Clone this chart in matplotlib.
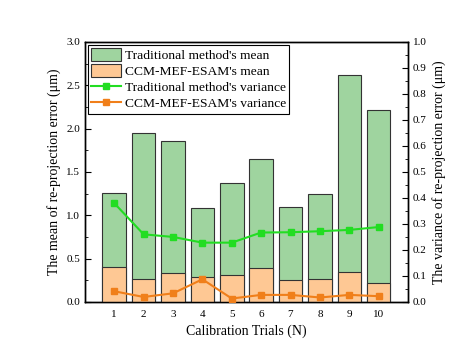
import numpy as np
import matplotlib.pyplot as plt
from matplotlib.ticker import MultipleLocator

plt.rcParams['font.family'] = ['Liberation Serif', 'DejaVu Serif']

trials = [1, 2, 3, 4, 5, 6, 7, 8, 9, 10]
trad_mean = [1.26, 1.95, 1.86, 1.08, 1.37, 1.65, 1.10, 1.25, 2.62, 2.21]
ccm_mean = [0.40, 0.265, 0.335, 0.29, 0.31, 0.39, 0.25, 0.265, 0.34, 0.22]
trad_var = [0.38, 0.26, 0.25, 0.228, 0.228, 0.267, 0.268, 0.272, 0.277, 0.288]
ccm_var = [0.041, 0.019, 0.033, 0.087, 0.013, 0.027, 0.027, 0.017, 0.027, 0.022]

fig = plt.figure(figsize=(4.74, 3.62), dpi=100)
ax = fig.add_axes([0.179, 0.166, 0.682, 0.718])

b1 = ax.bar(trials, trad_mean, width=0.8, color='#9fd49f', edgecolor='#333333',
            linewidth=0.8, label="Traditional method's mean", zorder=2)
b2 = ax.bar(trials, ccm_mean, width=0.8, color='#fec894', edgecolor='#333333',
            linewidth=0.8, label="CCM-MEF-ESAM's mean", zorder=3)
ax.set_xlim(0, 11)
ax.set_ylim(0, 3.0)
ax.set_xticks(trials)
ax.yaxis.set_major_locator(MultipleLocator(0.5))
ax.yaxis.set_minor_locator(MultipleLocator(0.25))
ax.tick_params(axis='y', which='major', direction='in', length=4, labelsize=8)
ax.tick_params(axis='y', which='minor', direction='in', length=2.5)
ax.tick_params(axis='x', length=0, labelsize=8, pad=6)
ax.set_xlabel('Calibration Trials (N)', fontsize=10)
ax.set_ylabel('The mean of re-projection error (μm)', fontsize=10)

ax2 = ax.twinx()
l1, = ax2.plot(trials, trad_var, color='#22dd22', marker='s', markersize=4.5,
               linewidth=1.5, label="Traditional method's variance", zorder=4)
l2, = ax2.plot(trials, ccm_var, color='#f07f1a', marker='s', markersize=4.5,
               linewidth=1.5, label="CCM-MEF-ESAM's variance", zorder=4)
ax2.set_ylim(0, 1.0)
ax2.yaxis.set_major_locator(MultipleLocator(0.1))
ax2.yaxis.set_minor_locator(MultipleLocator(0.05))
ax2.tick_params(axis='y', which='major', direction='in', length=4, labelsize=8)
ax2.tick_params(axis='y', which='minor', direction='in', length=2.5)
ax2.set_ylabel('The variance of re-projection error (μm)', fontsize=10)

for a in (ax, ax2):
    for s in a.spines.values():
        s.set_linewidth(1.0)

leg = ax2.legend([b1, b2, l1, l2],
                 [b1.get_label(), b2.get_label(), l1.get_label(), l2.get_label()],
                 loc='upper left', fontsize=9.7, fancybox=False, framealpha=1,
                 edgecolor='black', borderpad=0.25, labelspacing=0.15,
                 handlelength=2.2, handleheight=1.1, handletextpad=0.3,
                 borderaxespad=0.2)
leg.get_frame().set_linewidth(0.8)

fig.savefig('out.png', dpi=100)
